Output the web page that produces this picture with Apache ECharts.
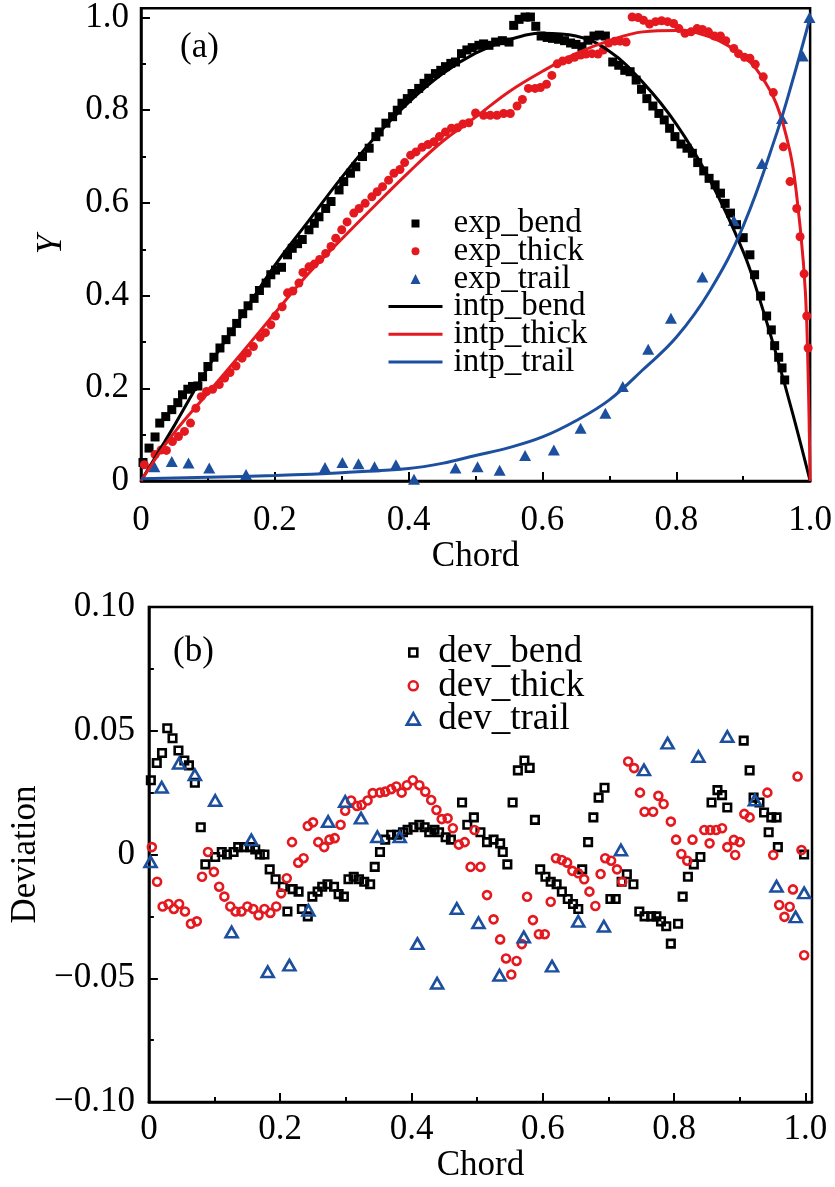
<!DOCTYPE html>
<html>
<head>
<meta charset="utf-8">
<script src="https://cdn.jsdelivr.net/npm/echarts@6/dist/echarts.min.js"></script>
<style>
html, body { margin: 0; padding: 0; background: #fff; }
#chart { width: 835px; height: 1187px; }
</style>
</head>
<body>
<div id="chart"></div>
<script>
// (a) experimental points [chord, Y]
const expBend = [[0.003,0.040],[0.012,0.071],[0.021,0.095],[0.028,0.125],[0.037,0.139],[0.046,0.154],[0.055,0.169],[0.062,0.186],[0.070,0.198],[0.077,0.204],[0.085,0.205],[0.092,0.225],[0.100,0.247],[0.109,0.267],[0.118,0.287],[0.127,0.305],[0.135,0.322],[0.143,0.340],[0.152,0.361],[0.160,0.378],[0.169,0.394],[0.177,0.411],[0.187,0.427],[0.194,0.445],[0.201,0.455],[0.210,0.461],[0.219,0.488],[0.226,0.502],[0.234,0.512],[0.241,0.521],[0.251,0.542],[0.259,0.556],[0.266,0.570],[0.276,0.588],[0.284,0.603],[0.296,0.628],[0.303,0.646],[0.313,0.664],[0.321,0.678],[0.331,0.700],[0.341,0.718],[0.351,0.743],[0.356,0.753],[0.366,0.772],[0.376,0.786],[0.383,0.800],[0.390,0.815],[0.398,0.825],[0.405,0.836],[0.415,0.847],[0.423,0.858],[0.430,0.869],[0.440,0.879],[0.448,0.886],[0.455,0.894],[0.463,0.901],[0.470,0.904],[0.479,0.922],[0.487,0.930],[0.495,0.935],[0.505,0.940],[0.512,0.943],[0.520,0.940],[0.530,0.947],[0.540,0.950],[0.550,0.947],[0.557,0.983],[0.565,0.996],[0.574,1.001],[0.582,1.001],[0.590,0.981],[0.598,0.960],[0.607,0.957],[0.615,0.955],[0.624,0.953],[0.633,0.950],[0.642,0.945],[0.650,0.942],[0.659,0.937],[0.668,0.951],[0.677,0.960],[0.685,0.962],[0.694,0.960],[0.705,0.904],[0.714,0.897],[0.723,0.886],[0.731,0.883],[0.740,0.865],[0.748,0.845],[0.756,0.825],[0.765,0.809],[0.774,0.793],[0.782,0.779],[0.790,0.761],[0.798,0.743],[0.807,0.727],[0.816,0.718],[0.824,0.707],[0.832,0.687],[0.841,0.669],[0.849,0.653],[0.858,0.639],[0.866,0.621],[0.873,0.599],[0.881,0.578],[0.890,0.553],[0.900,0.525],[0.910,0.488],[0.917,0.445],[0.926,0.399],[0.935,0.356],[0.942,0.326],[0.947,0.292],[0.953,0.267],[0.958,0.244],[0.962,0.218]]
const expThick = [[0.005,0.035],[0.021,0.057],[0.030,0.067],[0.038,0.066],[0.047,0.085],[0.056,0.096],[0.065,0.107],[0.074,0.125],[0.082,0.157],[0.090,0.182],[0.098,0.193],[0.107,0.198],[0.117,0.208],[0.125,0.222],[0.133,0.234],[0.142,0.248],[0.151,0.265],[0.159,0.276],[0.168,0.290],[0.178,0.310],[0.186,0.320],[0.194,0.337],[0.201,0.356],[0.211,0.376],[0.219,0.406],[0.227,0.410],[0.236,0.427],[0.242,0.450],[0.251,0.462],[0.259,0.468],[0.267,0.478],[0.276,0.491],[0.284,0.506],[0.291,0.524],[0.300,0.542],[0.308,0.559],[0.318,0.578],[0.326,0.588],[0.335,0.599],[0.345,0.613],[0.353,0.624],[0.361,0.635],[0.370,0.649],[0.378,0.664],[0.387,0.672],[0.394,0.687],[0.403,0.703],[0.411,0.710],[0.420,0.720],[0.429,0.726],[0.438,0.732],[0.446,0.743],[0.455,0.753],[0.464,0.761],[0.473,0.762],[0.481,0.770],[0.490,0.773],[0.500,0.794],[0.512,0.789],[0.522,0.789],[0.532,0.789],[0.542,0.793],[0.552,0.793],[0.562,0.809],[0.570,0.823],[0.579,0.847],[0.589,0.847],[0.597,0.849],[0.606,0.856],[0.614,0.875],[0.622,0.900],[0.630,0.906],[0.639,0.909],[0.648,0.914],[0.657,0.919],[0.665,0.921],[0.674,0.922],[0.683,0.921],[0.691,0.930],[0.699,0.945],[0.708,0.949],[0.716,0.949],[0.725,0.947],[0.734,1.001],[0.743,1.000],[0.751,0.994],[0.760,0.986],[0.769,0.991],[0.778,0.993],[0.787,0.991],[0.796,0.987],[0.804,0.976],[0.813,0.966],[0.822,0.969],[0.831,0.976],[0.839,0.974],[0.848,0.969],[0.857,0.960],[0.866,0.960],[0.874,0.950],[0.886,0.933],[0.893,0.922],[0.902,0.914],[0.910,0.912],[0.918,0.899],[0.930,0.872],[0.945,0.838],[0.960,0.721],[0.970,0.646],[0.980,0.588],[0.985,0.527],[0.991,0.447],[0.995,0.356],[0.997,0.287]]
const expTrail = [[0.020,0.031],[0.046,0.042],[0.071,0.039],[0.102,0.028],[0.157,0.014],[0.275,0.029],[0.301,0.040],[0.325,0.037],[0.349,0.031],[0.381,0.035],[0.408,0.004],[0.470,0.028],[0.503,0.031],[0.536,0.023],[0.574,0.055],[0.617,0.067],[0.657,0.114],[0.694,0.146],[0.720,0.204],[0.758,0.284],[0.792,0.351],[0.839,0.440],[0.886,0.562],[0.928,0.685],[0.958,0.782],[0.989,0.917],[0.999,1.000]]

// (a) interpolated curves
const intpBend = [[0,0],[0.025,0.06],[0.05,0.12],[0.1,0.245],[0.15,0.355],[0.2,0.465],[0.25,0.56],[0.3,0.655],[0.35,0.742],[0.4,0.817],[0.45,0.878],[0.5,0.923],[0.55,0.952],[0.6,0.966],[0.65,0.96],[0.7,0.927],[0.75,0.86],[0.8,0.77],[0.85,0.65],[0.9,0.495],[0.925,0.39],[0.95,0.27],[0.975,0.14],[1.0,0]]
const intpThick = [[0,0],[0.025,0.055],[0.05,0.105],[0.1,0.19],[0.15,0.275],[0.2,0.362],[0.25,0.447],[0.3,0.522],[0.35,0.595],[0.4,0.666],[0.45,0.732],[0.5,0.785],[0.55,0.84],[0.6,0.884],[0.65,0.922],[0.7,0.95],[0.75,0.969],[0.8,0.972],[0.85,0.958],[0.9,0.917],[0.925,0.878],[0.95,0.812],[0.97,0.71],[0.98,0.615],[0.99,0.47],[0.995,0.34],[1.0,0]]
const intpTrail = [[0,0.005],[0.1,0.008],[0.2,0.012],[0.3,0.018],[0.4,0.027],[0.45,0.038],[0.5,0.055],[0.55,0.072],[0.6,0.095],[0.65,0.13],[0.7,0.175],[0.75,0.24],[0.8,0.31],[0.85,0.41],[0.9,0.55],[0.95,0.75],[0.975,0.87],[1.0,1.0]]

// (b) deviations [chord, deviation]
const devBend = [[0.003,0.030],[0.012,0.037],[0.020,0.041],[0.028,0.051],[0.036,0.047],[0.045,0.042],[0.054,0.038],[0.061,0.036],[0.070,0.029],[0.079,0.011],[0.086,-0.004],[0.101,-0.001],[0.111,0.001],[0.119,0.000],[0.129,0.001],[0.136,0.003],[0.145,0.003],[0.154,0.003],[0.162,0.002],[0.169,0.000],[0.176,0.000],[0.184,-0.006],[0.193,-0.010],[0.204,-0.013],[0.211,-0.023],[0.219,-0.014],[0.228,-0.015],[0.233,-0.022],[0.242,-0.025],[0.249,-0.017],[0.257,-0.015],[0.264,-0.013],[0.272,-0.012],[0.282,-0.013],[0.289,-0.016],[0.297,-0.017],[0.304,-0.010],[0.312,-0.009],[0.320,-0.010],[0.328,-0.011],[0.337,-0.012],[0.344,-0.005],[0.352,0.001],[0.360,0.006],[0.369,0.008],[0.378,0.008],[0.387,0.009],[0.394,0.010],[0.403,0.011],[0.412,0.012],[0.420,0.011],[0.427,0.009],[0.435,0.010],[0.442,0.009],[0.452,0.007],[0.460,0.006],[0.477,0.021],[0.485,0.012],[0.495,0.015],[0.505,0.009],[0.515,0.005],[0.525,0.006],[0.535,0.0045],[0.539,0.001],[0.546,-0.004],[0.554,0.021],[0.562,0.034],[0.572,0.038],[0.580,0.035],[0.588,0.014],[0.596,-0.006],[0.604,-0.009],[0.612,-0.011],[0.621,-0.012],[0.629,-0.015],[0.638,-0.018],[0.646,-0.020],[0.654,-0.022],[0.660,-0.006],[0.669,0.005],[0.677,0.015],[0.685,0.023],[0.694,0.027],[0.703,-0.018],[0.711,-0.018],[0.720,-0.011],[0.728,-0.008],[0.738,-0.012],[0.747,-0.023],[0.755,-0.025],[0.765,-0.025],[0.773,-0.025],[0.780,-0.027],[0.788,-0.029],[0.795,-0.036],[0.806,-0.028],[0.813,-0.017],[0.821,-0.009],[0.830,-0.004],[0.840,-0.001],[0.857,0.021],[0.866,0.026],[0.873,0.024],[0.881,0.019],[0.906,0.046],[0.915,0.034],[0.921,0.023],[0.930,0.021],[0.937,0.017],[0.944,0.009],[0.948,0.015],[0.956,0.015],[0.958,0.003],[0.998,0.000]]
const devThick = [[0.0045,0.003],[0.0125,-0.011],[0.021,-0.021],[0.030,-0.020],[0.038,-0.022],[0.046,-0.020],[0.055,-0.023],[0.064,-0.028],[0.073,-0.027],[0.081,-0.009],[0.090,0.001],[0.099,-0.007],[0.107,-0.013],[0.115,-0.017],[0.124,-0.021],[0.132,-0.023],[0.141,-0.023],[0.150,-0.021],[0.159,-0.022],[0.167,-0.0245],[0.176,-0.022],[0.185,-0.0236],[0.194,-0.021],[0.2015,-0.0157],[0.210,-0.0096],[0.218,0.005],[0.2275,-0.0033],[0.2356,-0.0015],[0.242,0.0115],[0.250,0.013],[0.258,0.005],[0.267,0.003],[0.275,0.006],[0.283,0.0066],[0.292,0.012],[0.299,0.0177],[0.308,0.0218],[0.317,0.0196],[0.324,0.020],[0.333,0.0218],[0.341,0.0248],[0.352,0.025],[0.360,0.0254],[0.369,0.0264],[0.377,0.0275],[0.385,0.025],[0.393,0.028],[0.402,0.030],[0.412,0.028],[0.421,0.0254],[0.430,0.022],[0.438,0.018],[0.446,0.0143],[0.455,0.0146],[0.463,0.0106],[0.472,0.004],[0.481,0.005],[0.490,-0.005],[0.496,0.0099],[0.505,-0.005],[0.515,-0.0164],[0.525,-0.0262],[0.535,-0.0343],[0.544,-0.042],[0.552,-0.0485],[0.560,-0.043],[0.568,-0.0362],[0.576,-0.0171],[0.585,-0.0265],[0.594,-0.0322],[0.603,-0.0322],[0.612,-0.0191],[0.620,-0.0015],[0.629,-0.0022],[0.637,-0.0033],[0.645,-0.0066],[0.654,-0.0076],[0.663,-0.010],[0.671,-0.015],[0.680,-0.0208],[0.688,-0.0079],[0.695,-0.0015],[0.704,-0.0025],[0.713,-0.006],[0.721,-0.011],[0.730,0.0376],[0.739,0.0349],[0.748,0.025],[0.755,0.0173],[0.768,0.0173],[0.776,0.0237],[0.784,0.0204],[0.795,0.0133],[0.803,0.006],[0.811,0.0002],[0.820,-0.0025],[0.828,0.006],[0.846,0.0099],[0.854,0.0045],[0.855,0.0099],[0.864,0.0099],[0.873,0.0106],[0.881,0.003],[0.891,0.0059],[0.893,-0.0002],[0.900,0.005],[0.907,0.0164],[0.915,0.015],[0.942,0.025],[0.951,-0.0002],[0.960,-0.0204],[0.968,-0.0252],[0.976,-0.0211],[0.981,-0.0141],[0.988,0.0315],[0.994,0.0018],[0.998,-0.0407]]
const devTrail = [[0.0025,-0.0029],[0.0195,0.0272],[0.046,0.0369],[0.070,0.0322],[0.101,0.0218],[0.126,-0.0313],[0.156,0.0059],[0.181,-0.0474],[0.214,-0.0447],[0.243,-0.0225],[0.273,0.0133],[0.299,0.0214],[0.323,0.0147],[0.348,0.0072],[0.382,0.0072],[0.409,-0.036],[0.439,-0.052],[0.469,-0.0218],[0.502,-0.0276],[0.534,-0.0488],[0.571,-0.0333],[0.614,-0.0451],[0.654,-0.027],[0.693,-0.029],[0.719,0.0018],[0.754,0.0342],[0.790,0.045],[0.837,0.0396],[0.881,0.0477],[0.923,0.022],[0.956,-0.0128],[0.985,-0.0252],[0.998,-0.0155]]

const RED = '#e4191f'
const BLUE = '#1d4f9f'
const FONT = 'Liberation Serif'

const chart = echarts.init(document.getElementById('chart'))

function oneDec (v) {
    return v === 0 ? '0' : v.toFixed(1)
}
function devLabel (v) {
    if (Math.abs(v) < 1e-9) return '0'
    return (v < 0 ? '\u2212' : '') + Math.abs(v).toFixed(2)
}

function xAxisOf (grid, max, margin, gap) {
    return {
        gridIndex: grid,
        type: 'value',
        min: 0,
        max: max,
        interval: 0.2,
        name: 'Chord',
        nameLocation: 'middle',
        nameGap: gap,
        nameTextStyle: {fontFamily: FONT, fontSize: 35, color: '#000'},
        axisLine: {onZero: false, lineStyle: {color: '#000', width: 2.5}},
        axisTick: {inside: true, length: 9, lineStyle: {color: '#000', width: 2}},
        minorTick: {show: true, splitNumber: 2, length: 5, lineStyle: {color: '#000', width: 2}},
        splitLine: {show: false},
        axisLabel: {fontFamily: FONT, fontSize: 35, color: '#000', margin: margin, showMaxLabel: max === 1, formatter: oneDec}
    }
}

// legend icons: an invisible move-to keeps the box size so the mark sits centred
const iconSquare = 'path://M0,0M12,12M2,2L10,2L10,10L2,10Z'
const iconDot = 'path://M0,0M12,12M2,6A4,4,0,1,1,10,6A4,4,0,1,1,2,6Z'
const iconTri = 'path://M0,0M12,12M1,11L6,1L11,11Z'
const iconSquareO = 'path://M0,0M14,14M3,3L11,3L11,11L3,11Z'
const iconDotO = 'path://M0,0M14,14M2.5,7A4.5,4.5,0,1,1,11.5,7A4.5,4.5,0,1,1,2.5,7Z'
const iconTriO = 'path://M0,0M14,14M0.5,12.5L7,1L13.5,12.5Z'
const noDot = {opacity: 0}

const option = {
    backgroundColor: '#fff',
    animation: false,
    grid: [
        {left: 141, right: 23, top: 8, bottom: 706, show: true, borderColor: '#000', borderWidth: 2.5},
        {left: 141, right: 23, top: 607, bottom: 85, show: true, borderColor: '#000', borderWidth: 2.5}
    ],
    xAxis: [xAxisOf(0, 1, 22, 45), xAxisOf(1, 1.01, 10, 46)],
    yAxis: [
        {
            gridIndex: 0,
            type: 'value',
            min: 0,
            max: 1.02,
            interval: 0.2,
            name: 'Y',
            nameLocation: 'middle',
            nameGap: 72,
            nameTextStyle: {fontFamily: FONT, fontSize: 35, fontStyle: 'italic', color: '#000'},
            axisLine: {onZero: false, lineStyle: {color: '#000', width: 2.5}},
            axisTick: {inside: true, length: 9, lineStyle: {color: '#000', width: 2}},
            minorTick: {show: true, splitNumber: 2, length: 5, lineStyle: {color: '#000', width: 2}},
            splitLine: {show: false},
            axisLabel: {fontFamily: FONT, fontSize: 35, color: '#000', margin: 12, showMaxLabel: false, formatter: oneDec}
        },
        {
            gridIndex: 1,
            type: 'value',
            min: -0.1,
            max: 0.1,
            interval: 0.05,
            name: 'Deviation',
            nameLocation: 'middle',
            nameGap: 101,
            nameTextStyle: {fontFamily: FONT, fontSize: 35, color: '#000'},
            axisLine: {onZero: false, lineStyle: {color: '#000', width: 2.5}},
            axisTick: {inside: true, length: 9, lineStyle: {color: '#000', width: 2}},
            minorTick: {show: true, splitNumber: 2, length: 5, lineStyle: {color: '#000', width: 2}},
            splitLine: {show: false},
            axisLabel: {fontFamily: FONT, fontSize: 35, color: '#000', margin: 14, formatter: devLabel}
        }
    ],
    legend: [
        {
            left: 387,
            top: 207,
            padding: 0,
            orient: 'vertical',
            itemWidth: 54,
            itemHeight: 12,
            itemGap: -5.3,
            symbolKeepAspect: true,
            selectedMode: false,
            lineStyle: {width: 3},
            textStyle: {fontFamily: FONT, fontSize: 33, color: '#000', padding: [0, 0, 0, 6]},
            data: [
                {name: 'exp_bend', icon: iconSquare},
                {name: 'exp_thick', icon: iconDot},
                {name: 'exp_trail', icon: iconTri},
                {name: 'intp_bend', itemStyle: noDot},
                {name: 'intp_thick', itemStyle: noDot},
                {name: 'intp_trail', itemStyle: noDot}
            ]
        },
        {
            left: 405,
            top: 634,
            padding: 0,
            orient: 'vertical',
            itemWidth: 28,
            itemHeight: 14,
            itemGap: -3.7,
            symbolKeepAspect: true,
            selectedMode: false,
            itemStyle: {borderWidth: 2.6},
            textStyle: {fontFamily: FONT, fontSize: 37, color: '#000', padding: [0, 0, 0, 6]},
            data: [
                {name: 'dev_bend', icon: iconSquareO},
                {name: 'dev_thick', icon: iconDotO},
                {name: 'dev_trail', icon: iconTriO}
            ]
        }
    ],
    graphic: [
        {type: 'text', left: 180, top: 30, style: {text: '(a)', font: '35px "Liberation Serif"', fill: '#000'}},
        {type: 'text', left: 173, top: 634, style: {text: '(b)', font: '35px "Liberation Serif"', fill: '#000'}}
    ],
    series: [
        {name: 'exp_bend', type: 'scatter', xAxisIndex: 0, yAxisIndex: 0, symbol: 'rect', symbolSize: 9,
            itemStyle: {color: '#000', opacity: 1}, data: expBend},
        {name: 'exp_thick', type: 'scatter', xAxisIndex: 0, yAxisIndex: 0, symbol: 'circle', symbolSize: 9,
            itemStyle: {color: RED, opacity: 1}, data: expThick},
        {name: 'exp_trail', type: 'scatter', xAxisIndex: 0, yAxisIndex: 0, symbol: 'triangle', symbolSize: [12, 11],
            itemStyle: {color: BLUE, opacity: 1}, data: expTrail},
        {name: 'intp_bend', type: 'line', xAxisIndex: 0, yAxisIndex: 0, symbol: 'none', smooth: 0.4,
            lineStyle: {color: '#000', width: 3}, itemStyle: {color: '#000'}, z: 3, data: intpBend},
        {name: 'intp_thick', type: 'line', xAxisIndex: 0, yAxisIndex: 0, symbol: 'none', smooth: 0.4,
            lineStyle: {color: RED, width: 3}, itemStyle: {color: RED}, z: 3, data: intpThick},
        {name: 'intp_trail', type: 'line', xAxisIndex: 0, yAxisIndex: 0, symbol: 'none', smooth: 0.4,
            lineStyle: {color: BLUE, width: 3}, itemStyle: {color: BLUE}, z: 3, data: intpTrail},
        {name: 'dev_bend', type: 'scatter', xAxisIndex: 1, yAxisIndex: 1, symbol: 'rect', symbolSize: 7.5,
            itemStyle: {color: 'rgba(255,255,255,0)', borderColor: '#000', borderWidth: 2.6, opacity: 1}, data: devBend},
        {name: 'dev_thick', type: 'scatter', xAxisIndex: 1, yAxisIndex: 1, symbol: 'circle', symbolSize: 8,
            itemStyle: {color: 'rgba(255,255,255,0)', borderColor: RED, borderWidth: 2.6, opacity: 1}, data: devThick},
        {name: 'dev_trail', type: 'scatter', xAxisIndex: 1, yAxisIndex: 1, symbol: 'triangle', symbolSize: [12, 10.5],
            itemStyle: {color: 'rgba(255,255,255,0)', borderColor: BLUE, borderWidth: 2.6, opacity: 1}, data: devTrail}
    ]
}

chart.setOption(option)
window.addEventListener('resize', function () {
    chart.resize()
})
</script>
</body>
</html>
